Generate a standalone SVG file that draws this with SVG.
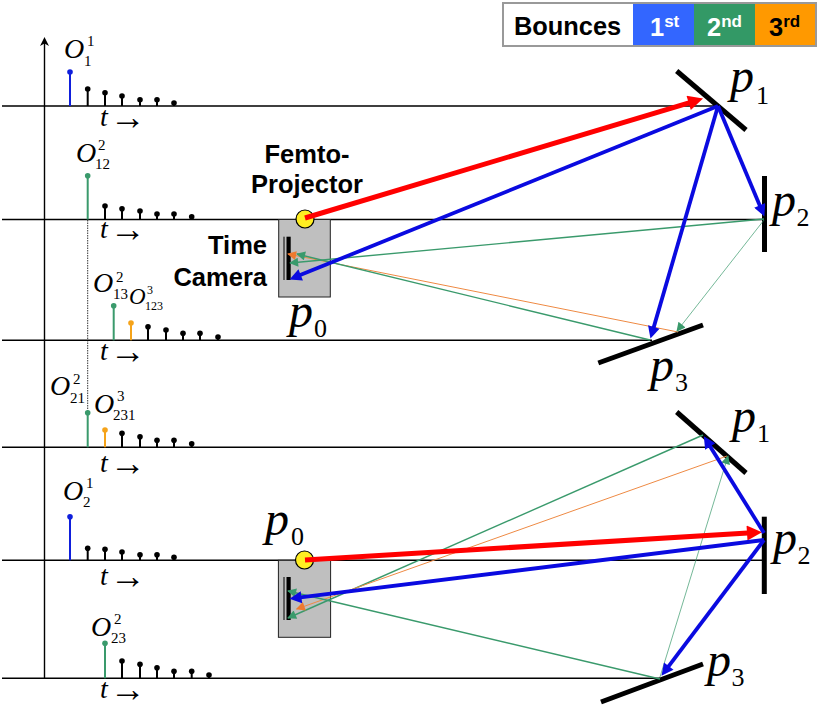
<svg xmlns="http://www.w3.org/2000/svg" width="818" height="707" viewBox="0 0 818 707">
<style>
text{font-family:"Liberation Serif","Times New Roman",serif;fill:#000}
.s{font-family:"Liberation Sans",Arial,sans-serif;font-weight:bold}
.l{font-size:25.5px}
.leg{font-size:25.4px}
.o{font-style:italic;font-size:28px}
.oo{font-style:italic;font-size:23px}
.i{font-size:15px}
.ii{font-size:12px}
.p{font-style:italic;font-size:48px}
.n{font-size:26px}
.t{font-style:italic;font-size:28px}
.ar{font-size:36px}
.ax{stroke:#000;stroke-width:1.4;fill:none}
.k{stroke:#000;stroke-width:2;fill:none}
.kd{fill:#000}
.bl{stroke:#0f1fdc;stroke-width:2;fill:none}
.bd{fill:#0f1fdc}
.gr{stroke:#3a9a6c;stroke-width:2;fill:none}
.gd{fill:#3a9a6c}
.or{stroke:#f5a31a;stroke-width:2;fill:none}
.od{fill:#f5a31a}
.m{stroke:#000;stroke-width:5;fill:none}
.cam{fill:#bfbfbf;stroke:#222;stroke-width:1}
.lens{fill:#ffee22;stroke:#000;stroke-width:1.2}
.rb{stroke:#0a0ae0;stroke-width:3.8;fill:none;marker-end:url(#hb)}
.rr{stroke:#f00;stroke-width:5;fill:none;marker-end:url(#hr)}
.rg{stroke:#3a9a6c;stroke-width:1.4;fill:none;marker-end:url(#hg)}
.rt{stroke:#3a9a6c;stroke-width:.7;fill:none;marker-end:url(#hg)}
.ro{stroke:#ee8a44;stroke-width:1;fill:none;marker-end:url(#ho)}
</style>
<defs>
<marker id="hb" markerUnits="userSpaceOnUse" markerWidth="16" markerHeight="12" viewBox="0 0 10 10" refX="6" refY="5" orient="auto"><path d="M0 0L10 5L0 10z" fill="#0a0ae0"/></marker>
<marker id="hr" markerUnits="userSpaceOnUse" markerWidth="20" markerHeight="15" viewBox="0 0 10 10" refX="6" refY="5" orient="auto"><path d="M0 0L10 5L0 10z" fill="#f00"/></marker>
<marker id="hg" markerUnits="userSpaceOnUse" markerWidth="12" markerHeight="9" viewBox="0 0 10 10" refX="9" refY="5" orient="auto"><path d="M0 0L10 5L0 10z" fill="#3a9a6c"/></marker>
<marker id="ho" markerUnits="userSpaceOnUse" markerWidth="12" markerHeight="9" viewBox="0 0 10 10" refX="9" refY="5" orient="auto"><path d="M0 0L10 5L0 10z" fill="#ee7a30"/></marker>
</defs>

<g id="axes">
<path class="ax" d="M44.5 678V42"/>
<path d="M44.5 37L49 46L44.5 43.5L40 46z" fill="#000"/>
<path d="M87.7 220V412" stroke="#000" stroke-width=".8" stroke-dasharray="1.5 1" fill="none"/>
<path class="ax" d="M2 106H716M2 219.5H764M2 340.3H652M2 447.3H710M2 560.3H764M2 678.3H660"/>
</g>

<g id="signal-row-1">
<path class="bl" d="M70 106V72"/><circle class="bd" cx="70" cy="72" r="2.8"/>
<path class="k" d="M87.7 106V89M105 106V92.7M122 106V96M140 106V99.7M157 106V99.7M174 106V103"/>
<g class="kd"><circle cx="87.7" cy="89" r="2.8"/><circle cx="105" cy="92.7" r="2.8"/><circle cx="122" cy="96" r="2.8"/><circle cx="140" cy="99.7" r="2.8"/><circle cx="157" cy="99.7" r="2.8"/><circle cx="174" cy="103" r="2.8"/></g>
<text x="64" y="58" class="o">O</text><text x="87" y="46" class="i">1</text><text x="84" y="65.5" class="i">1</text>
<text x="100" y="126" class="t">t</text><text x="110" y="128.5" class="ar">→</text>
</g>

<g id="signal-row-2">
<path class="gr" d="M87.7 219.5V175.7"/><circle class="gd" cx="87.7" cy="175.7" r="2.8"/>
<path class="k" d="M105 219.5V206M122 219.5V208.7M140 219.5V211M157 219.5V214M174 219.5V214M191.7 219.5V216.7"/>
<g class="kd"><circle cx="105" cy="206" r="2.8"/><circle cx="122" cy="208.7" r="2.8"/><circle cx="140" cy="211" r="2.8"/><circle cx="157" cy="214" r="2.8"/><circle cx="174" cy="214" r="2.8"/><circle cx="191.7" cy="216.7" r="2.8"/></g>
<text x="76" y="162" class="o">O</text><text x="98" y="150" class="i">2</text><text x="95" y="169" class="i">12</text>
<text x="100" y="238" class="t">t</text><text x="110" y="240.5" class="ar">→</text>
</g>

<g id="signal-row-3">
<path class="gr" d="M113.7 340.3V305.7"/><circle class="gd" cx="113.7" cy="305.7" r="2.8"/>
<path class="or" d="M131 340.3V323"/><circle class="od" cx="131" cy="323" r="2.8"/>
<path class="k" d="M148 340.3V326.7M166 340.3V330M183 340.3V333.3M200 340.3V333.3M218 340.3V337"/>
<g class="kd"><circle cx="148" cy="326.7" r="2.8"/><circle cx="166" cy="330" r="2.8"/><circle cx="183" cy="333.3" r="2.8"/><circle cx="200" cy="333.3" r="2.8"/><circle cx="218" cy="337" r="2.8"/></g>
<text x="93" y="292" class="o">O</text><text x="116" y="282" class="i">2</text><text x="113" y="299" class="i">13</text>
<text x="129" y="304" class="oo">O</text><text x="147" y="294" class="ii">3</text><text x="145" y="310" class="ii">123</text>
<text x="100" y="360" class="t">t</text><text x="110" y="362.5" class="ar">→</text>
</g>

<g id="signal-row-4">
<path class="gr" d="M87.7 447.3V412.7"/><circle class="gd" cx="87.7" cy="412.7" r="2.8"/>
<path class="or" d="M105 447.3V430"/><circle class="od" cx="105" cy="430" r="2.8"/>
<path class="k" d="M122 447.3V433.3M140 447.3V436.7M157 447.3V440.3M174 447.3V440.3M191.7 447.3V443.7"/>
<g class="kd"><circle cx="122" cy="433.3" r="2.8"/><circle cx="140" cy="436.7" r="2.8"/><circle cx="157" cy="440.3" r="2.8"/><circle cx="174" cy="440.3" r="2.8"/><circle cx="191.7" cy="443.7" r="2.8"/></g>
<text x="50" y="395" class="o">O</text><text x="73" y="384" class="i">2</text><text x="70" y="403" class="i">21</text>
<text x="94" y="413" class="o">O</text><text x="117" y="401" class="i">3</text><text x="113" y="420" class="i">231</text>
<text x="100" y="472" class="t">t</text><text x="110" y="474.5" class="ar">→</text>
</g>

<g id="signal-row-5">
<path class="bl" d="M70 560.3V516.7"/><circle class="bd" cx="70" cy="516.7" r="2.8"/>
<path class="k" d="M87.7 560.3V548.3M105 560.3V549.3M122 560.3V552M140 560.3V554.7M157 560.3V554.7M174 560.3V557.3"/>
<g class="kd"><circle cx="87.7" cy="548.3" r="2.8"/><circle cx="105" cy="549.3" r="2.8"/><circle cx="122" cy="552" r="2.8"/><circle cx="140" cy="554.7" r="2.8"/><circle cx="157" cy="554.7" r="2.8"/><circle cx="174" cy="557.3" r="2.8"/></g>
<text x="63" y="500" class="o">O</text><text x="86" y="488" class="i">1</text><text x="83" y="507" class="i">2</text>
<text x="100" y="585" class="t">t</text><text x="110" y="587.5" class="ar">→</text>
</g>

<g id="signal-row-6">
<path class="gr" d="M105 678.3V643.3"/><circle class="gd" cx="105" cy="643.3" r="2.8"/>
<path class="k" d="M122 678.3V661M140 678.3V664.3M157 678.3V667.7M174 678.3V671.3M191.7 678.3V671.3M209 678.3V675"/>
<g class="kd"><circle cx="122" cy="661" r="2.8"/><circle cx="140" cy="664.3" r="2.8"/><circle cx="157" cy="667.7" r="2.8"/><circle cx="174" cy="671.3" r="2.8"/><circle cx="191.7" cy="671.3" r="2.8"/><circle cx="209" cy="675" r="2.8"/></g>
<text x="91" y="636" class="o">O</text><text x="114" y="624" class="i">2</text><text x="111" y="643" class="i">23</text>
<text x="100" y="698" class="t">t</text><text x="110" y="700.5" class="ar">→</text>
</g>

<g id="legend">
<rect x="503" y="3" width="313" height="43" fill="#fff"/>
<rect x="633" y="3" width="61" height="43" fill="#3366ff"/>
<rect x="694" y="3" width="61" height="43" fill="#339966"/>
<rect x="755" y="3" width="61" height="43" fill="#ff9900"/>
<rect x="503" y="3" width="313" height="43" fill="none" stroke="#999" stroke-width="2"/>
<text x="514" y="35" class="s leg">Bounces</text>
<text x="650" y="36" class="s leg" style="fill:#fff">1<tspan font-size="17" dy="-9">st</tspan></text>
<text x="707" y="36" class="s leg" style="fill:#fff">2<tspan font-size="17" dy="-9">nd</tspan></text>
<text x="769" y="36" class="s leg">3<tspan font-size="17" dy="-9">rd</tspan></text>
</g>

<g id="camera-top">
<rect class="cam" x="278.7" y="219.5" width="51.6" height="77.5"/>
<rect x="286.5" y="236.7" width="4.2" height="43.3" fill="#000"/>
<path d="M284 236.7V280" stroke="#000" stroke-width="1" fill="none"/>
<circle class="lens" cx="305" cy="219" r="9"/>
<text x="307" y="163" class="s l" text-anchor="middle">Femto-</text>
<text x="307" y="193" class="s l" text-anchor="middle">Projector</text>
<text x="267" y="254" class="s l" text-anchor="end">Time</text>
<text x="267" y="286" class="s l" text-anchor="end">Camera</text>
<text x="289" y="327" class="p">p</text><text x="314" y="337" class="n">0</text>
</g>

<g id="camera-bottom">
<rect class="cam" x="278.4" y="560.3" width="52.2" height="77"/>
<rect x="286.5" y="577" width="4.2" height="43" fill="#000"/>
<path d="M284 577V620" stroke="#000" stroke-width="1" fill="none"/>
<circle class="lens" cx="304.5" cy="560" r="9"/>
<text x="265" y="535" class="p">p</text><text x="291" y="545" class="n">0</text>
</g>

<g id="mirror-p1-top"><path class="m" d="M676.7 71L746 130"/><text x="730" y="92" class="p">p</text><text x="756" y="104" class="n">1</text></g>
<g id="mirror-p2-top"><path class="m" d="M764.5 176V252"/><text x="772" y="216" class="p">p</text><text x="796.5" y="226" class="n">2</text></g>
<g id="mirror-p3-top"><path class="m" d="M598.3 363L703 325"/><text x="650" y="381" class="p">p</text><text x="675" y="391" class="n">3</text></g>
<g id="mirror-p1-bottom"><path class="m" d="M676.7 412L746 473"/><text x="732" y="432" class="p">p</text><text x="757" y="442" class="n">1</text></g>
<g id="mirror-p2-bottom"><path class="m" d="M764.3 516.7V594"/><text x="773" y="554" class="p">p</text><text x="797.5" y="564" class="n">2</text></g>
<g id="mirror-p3-bottom"><path class="m" d="M601 702L703 664"/><text x="707" y="676" class="p">p</text><text x="731.5" y="686" class="n">3</text></g>

<g id="connectors">
<path class="ro" d="M678 332L288 254"/>
<path class="rg" d="M650 340L297 254"/>
<path class="rg" d="M764 219L290 263"/>
<path class="rt" d="M764 220L677 331"/>
<path class="rr" d="M305 218L697.3 100.3"/>
<path class="rb" d="M718 106L294 277.6"/>
<path class="rb" d="M718 106L762.5 212"/>
<path class="rb" d="M718 106L651.8 333.9"/>
<path class="rg" d="M703 435L288 618"/>
<path class="ro" d="M727 456L296.7 609"/>
<path class="rg" d="M660 679L288 591"/>
<path class="rt" d="M660 677L728 456"/>
<path class="rr" d="M305 560L756 532.5"/>
<path class="rb" d="M764 540L294.3 598.2"/>
<path class="rb" d="M764 533L706.4 440.4"/>
<path class="rb" d="M764 540L664.4 671.9"/>
</g>
</svg>
